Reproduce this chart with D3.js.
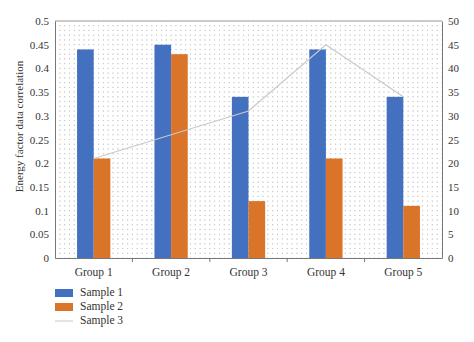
<!DOCTYPE html>
<html>
<head>
<meta charset="utf-8">
<script src="https://cdn.jsdelivr.net/npm/d3@7"></script>
<style>
  body { margin: 0; background: #fff; }
  svg text { font-family: "Liberation Serif", "Times New Roman", serif !important; fill: #333; }
</style>
</head>
<body>
<div id="chart"></div>
<script>
const groups = ['Group 1', 'Group 2', 'Group 3', 'Group 4', 'Group 5'];
const sample1 = [0.44, 0.45, 0.34, 0.44, 0.34];
const sample2 = [0.21, 0.43, 0.12, 0.21, 0.11];
const sample3 = [21, 26, 31, 45, 34];
const leftTicks = d3.range(0, 0.501, 0.05);
const rightTicks = d3.range(0, 51, 5);

const colors = { s1: '#4470c0', s2: '#d97428', s3: '#c9c9c9' };

const width = 474;
const height = 342;
const margin = { top: 21, right: 32, bottom: 84, left: 55 };
const innerW = width - margin.left - margin.right;
const innerH = height - margin.top - margin.bottom;

const svg = d3.select('#chart').append('svg')
    .attr('width', width)
    .attr('height', height);

const g = svg.append('g')
    .attr('transform', `translate(${margin.left},${margin.top})`);

const x = d3.scaleBand()
    .domain(groups)
    .range([0, innerW]);

const sub = d3.scaleBand()
    .domain(['s1', 's2'])
    .range([x.bandwidth() * 0.285, x.bandwidth() * 0.715]);

const y = d3.scaleLinear().domain([0, 0.5]).range([innerH, 0]);
const y2 = d3.scaleLinear().domain([0, 50]).range([innerH, 0]);

// dotted minor grid, dots placed on the crossings
const gx = d3.scaleLinear().domain([0, 80]).range([0, innerW]);
const stepX = innerW / 80;
const stepY = innerH / 50;

g.append('g')
  .selectAll('line')
  .data(d3.range(1, 80))
  .join('line')
    .attr('x1', d => gx(d)).attr('x2', d => gx(d))
    .attr('y1', 0).attr('y2', innerH)
    .attr('stroke', '#c8c8c8')
    .attr('stroke-dasharray', `1,${stepY - 1}`)
    .attr('stroke-dashoffset', 0.5);

g.append('g')
  .selectAll('line')
  .data(d3.range(1, 50).map(d => d / 100))
  .join('line')
    .attr('x1', 0).attr('x2', innerW)
    .attr('y1', d => y(d)).attr('y2', d => y(d))
    .attr('stroke', '#c8c8c8')
    .attr('stroke-dasharray', `1,${stepX - 1}`)
    .attr('stroke-dashoffset', 0.5);

// top border
g.append('line')
    .attr('x1', 0).attr('x2', innerW)
    .attr('y1', 0).attr('y2', 0)
    .attr('stroke', '#999');

// bars
const rows = groups.map((name, i) => ({ name, s1: sample1[i], s2: sample2[i] }));

g.selectAll('.grp')
  .data(rows)
  .join('g')
    .attr('class', 'grp')
    .attr('transform', d => `translate(${x(d.name)},0)`)
  .selectAll('rect')
  .data(d => ['s1', 's2'].map(k => ({ key: k, value: d[k] })))
  .join('rect')
    .attr('x', d => sub(d.key))
    .attr('width', sub.bandwidth())
    .attr('y', d => y(d.value))
    .attr('height', d => innerH - y(d.value))
    .attr('fill', d => colors[d.key]);

// line series on the right axis
const line = d3.line()
    .x((d, i) => x(groups[i]) + x.bandwidth() / 2)
    .y(d => y2(d));

g.append('path')
    .datum(sample3)
    .attr('d', line)
    .attr('fill', 'none')
    .attr('stroke', colors.s3)
    .attr('stroke-width', 1.2);

// axes
const leftAxis = g.append('g')
    .call(d3.axisLeft(y).tickValues(leftTicks).tickSize(0).tickPadding(6)
      .tickFormat(d => d3.format('~g')(+d.toFixed(2))));

const rightAxis = g.append('g')
    .attr('transform', `translate(${innerW},0)`)
    .call(d3.axisRight(y2).tickValues(rightTicks).tickSize(0).tickPadding(6));

const bottomAxis = g.append('g')
    .attr('transform', `translate(0,${innerH})`)
    .call(d3.axisBottom(x).tickSize(0).tickPadding(10));

[leftAxis, rightAxis, bottomAxis].forEach(a => {
  a.select('.domain').attr('stroke', '#777');
  a.selectAll('text')
      .attr('font-size', 11)
      .attr('fill', '#333');
});
bottomAxis.selectAll('text').attr('font-size', 11.5);

// category separators under the baseline
g.append('g')
  .selectAll('line')
  .data(groups.slice(1))
  .join('line')
    .attr('x1', d => x(d)).attr('x2', d => x(d))
    .attr('y1', innerH).attr('y2', innerH + 4)
    .attr('stroke', '#777');

// axis title
svg.append('text')
    .attr('transform', `translate(23,${margin.top + innerH / 2 - 13}) rotate(-90)`)
    .attr('text-anchor', 'middle')
    .attr('font-size', 11)
    .text('Energy factor data correlation');

// legend
const legend = svg.append('g')
    .attr('transform', `translate(${margin.left},289)`);

const items = [
  { label: 'Sample 1', color: colors.s1, type: 'rect' },
  { label: 'Sample 2', color: colors.s2, type: 'rect' },
  { label: 'Sample 3', color: colors.s3, type: 'line' }
];

const item = legend.selectAll('g')
  .data(items)
  .join('g')
    .attr('transform', (d, i) => `translate(0,${i * 14})`);

item.filter(d => d.type === 'rect')
  .append('rect')
    .attr('width', 18)
    .attr('height', 8)
    .attr('fill', d => d.color);

item.filter(d => d.type === 'line')
  .append('line')
    .attr('x1', 0).attr('x2', 18)
    .attr('y1', 4).attr('y2', 4)
    .attr('stroke', d => d.color)
    .attr('stroke-width', 1);

item.append('text')
    .attr('x', 25)
    .attr('y', 4)
    .attr('dominant-baseline', 'middle')
    .attr('font-size', 11.5)
    .text(d => d.label);
</script>
</body>
</html>
